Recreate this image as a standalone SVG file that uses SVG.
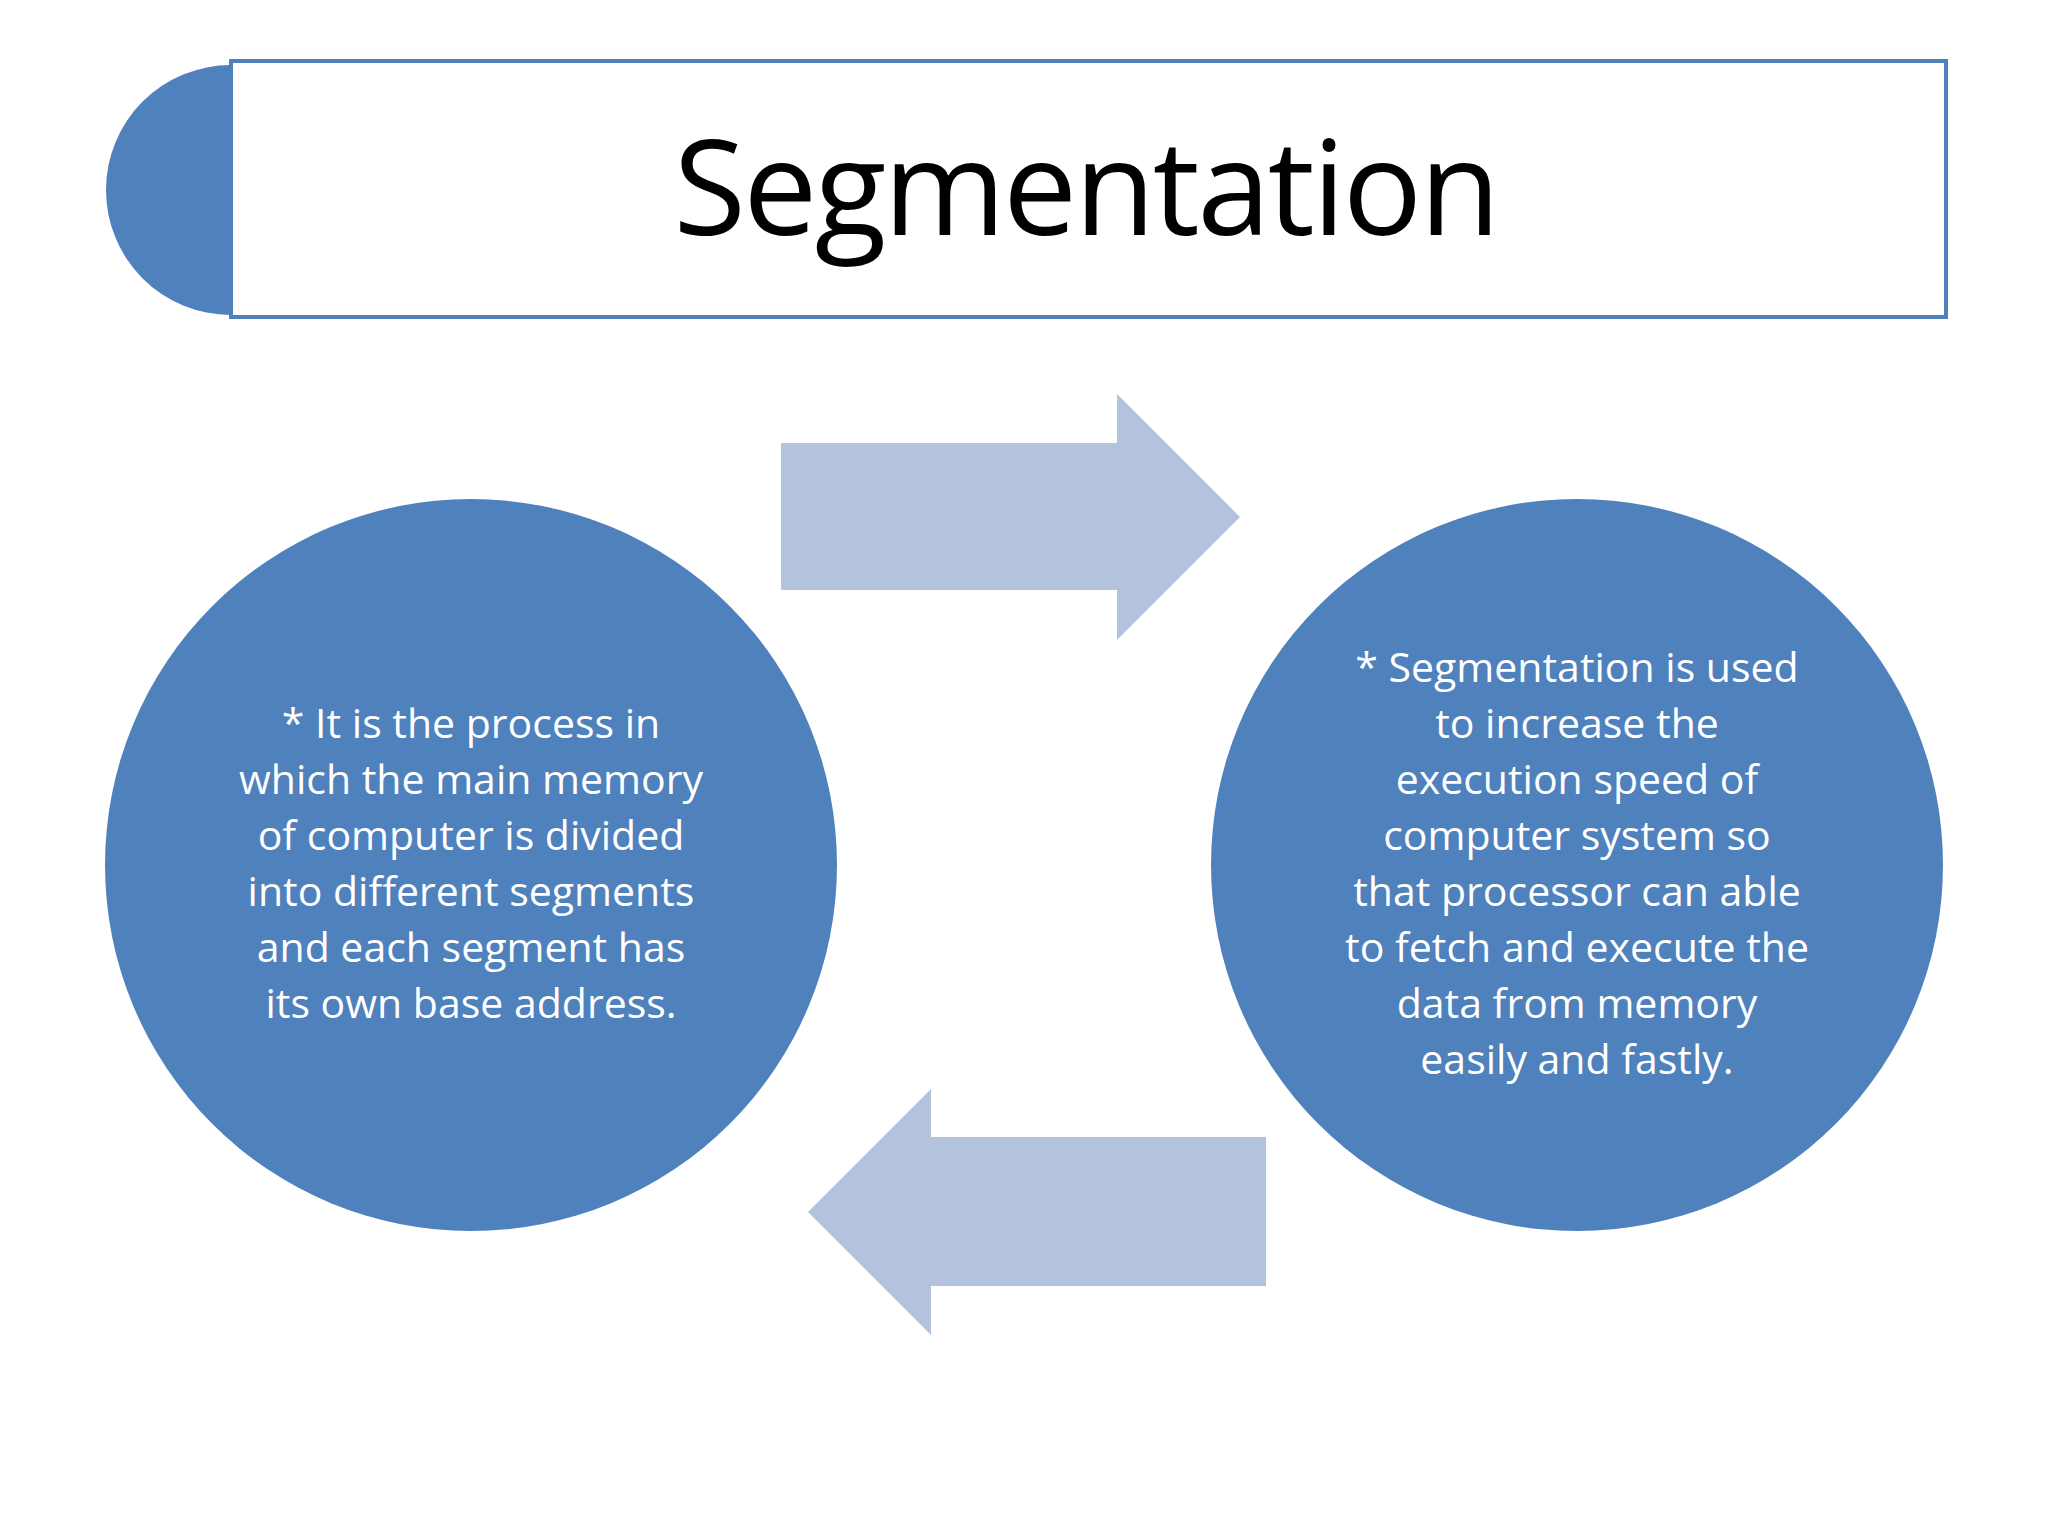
<svg xmlns="http://www.w3.org/2000/svg" width="2048" height="1536" viewBox="0 0 2048 1536">
<style>
.c{fill:#4F81BD}
.a{fill:#B3C3DE}
.t{font-family:"Open Sans","Noto Sans",sans-serif;font-size:41px;fill:#fff;text-anchor:middle}
</style>
<rect width="2048" height="1536" fill="#fff"/>
<g id="title">
<circle cx="231" cy="190" r="125" class="c"/>
<rect x="231" y="61" width="1715" height="256" fill="#fff" stroke="#4F81BD" stroke-width="4"/>
<text x="1087" y="235" font-family="Open Sans,Noto Sans,sans-serif" font-size="132" text-anchor="middle" textLength="827" fill="#000">Segmentation</text>
</g>
<g id="connectors">
<polygon class="a" points="781,443 1117,443 1117,394 1240,517 1117,640 1117,590 781,590"/>
<polygon class="a" points="1266,1137 931,1137 931,1089 808,1212 931,1335 931,1286 1266,1286"/>
</g>
<g id="left">
<circle cx="471" cy="865" r="366" class="c"/>
<text class="t"><tspan x="471" y="738">* It is the process in</tspan><tspan x="471" y="794">which the main memory</tspan><tspan x="471" y="850">of computer is divided</tspan><tspan x="471" y="906">into different segments</tspan><tspan x="471" y="962">and each segment has</tspan><tspan x="471" y="1018">its own base address.</tspan></text>
</g>
<g id="right">
<circle cx="1577" cy="865" r="366" class="c"/>
<text class="t"><tspan x="1577" y="682">* Segmentation is used</tspan><tspan x="1577" y="738">to increase the</tspan><tspan x="1577" y="794">execution speed of</tspan><tspan x="1577" y="850">computer system  so</tspan><tspan x="1577" y="906">that processor can able</tspan><tspan x="1577" y="962">to fetch and execute the</tspan><tspan x="1577" y="1018">data from memory</tspan><tspan x="1577" y="1074">easily and fastly.</tspan></text>
</g>
</svg>
